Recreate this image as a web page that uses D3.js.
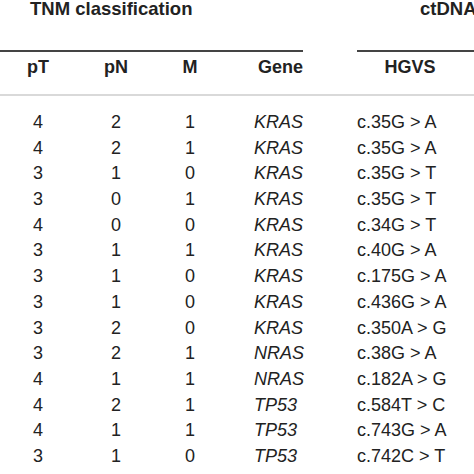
<!DOCTYPE html>
<html><head><meta charset="utf-8">
<script src="https://cdn.jsdelivr.net/npm/d3@7"></script>
<style>body{margin:0;background:#fff}text{font-family:"Liberation Sans",Arial,sans-serif;fill:#222}</style>
</head><body>
<script>
const pT = [4,4,3,3,4,3,3,3,3,3,4,4,4,3];
const pN = [2,2,1,0,0,1,1,1,2,2,1,2,1,1];
const M = [1,1,0,1,0,1,0,0,0,1,1,1,1,0];
const gene = ["KRAS","KRAS","KRAS","KRAS","KRAS","KRAS","KRAS","KRAS","KRAS","NRAS","NRAS","TP53","TP53","TP53"];
const hgvs = ["c.35G > A","c.35G > A","c.35G > T","c.35G > T","c.34G > T","c.40G > A","c.175G > A","c.436G > A","c.350A > G","c.38G > A","c.182A > G","c.584T > C","c.743G > A","c.742C > T"];
const headers = ["pT","pN","M","Gene","HGVS"];

const W = 474, H = 474;
const svg = d3.select("body").append("svg").attr("width", W).attr("height", H);
const y = d3.scaleLinear().domain([0, 13]).range([122, 456]);

svg.append("text").attr("x", 30).attr("y", 15).attr("font-size", 18.5).attr("font-weight", "bold").text("TNM classification");
svg.append("text").attr("x", 420).attr("y", 15).attr("font-size", 18.5).attr("font-weight", "bold").text("ctDNA");

svg.append("line").attr("x1", 0).attr("x2", 303).attr("y1", 51).attr("y2", 51).attr("stroke", "#444").attr("stroke-width", 2);
svg.append("line").attr("x1", 357).attr("x2", 474).attr("y1", 51).attr("y2", 51).attr("stroke", "#444").attr("stroke-width", 2);
svg.append("line").attr("x1", 0).attr("x2", 474).attr("y1", 95).attr("y2", 95).attr("stroke", "#ccc").attr("stroke-width", 1.5);

const hx = [38, 116, 190, 303, 410], ha = ["middle","middle","middle","end","middle"];
headers.forEach((h, i) => svg.append("text").attr("x", hx[i]).attr("y", 73).attr("text-anchor", ha[i])
  .attr("font-size", 18).attr("font-weight", "bold").text(h));

const cols = [
  {vals: pT, x: 38, a: "middle"},
  {vals: pN, x: 116, a: "middle"},
  {vals: M, x: 190, a: "middle"},
  {vals: gene, x: 254, a: "start", italic: true},
  {vals: hgvs, x: 357, a: "start"}
];
cols.forEach(c => {
  svg.append("g").selectAll("text").data(c.vals).join("text")
    .attr("x", c.x).attr("y", (d, i) => y(i) + 6).attr("text-anchor", c.a)
    .attr("font-size", 18).attr("font-style", c.italic ? "italic" : null).text(d => d);
});
</script>
</body></html>
